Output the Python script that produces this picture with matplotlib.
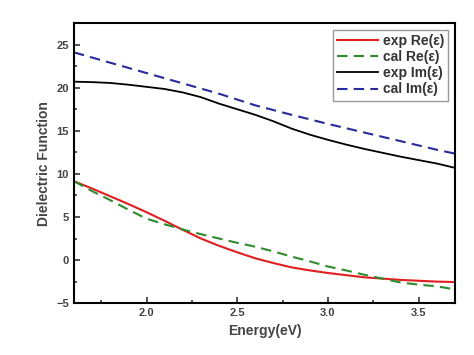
import numpy as np
import matplotlib
matplotlib.use('Agg')
import matplotlib.pyplot as plt
from matplotlib.ticker import MultipleLocator

plt.rcParams['font.family'] = ['Liberation Sans', 'DejaVu Sans']
plt.rcParams['font.weight'] = 'bold'

# 数据
energy_im = [1.6, 1.7, 1.8, 1.9, 2.0, 2.1, 2.2, 2.3, 2.4, 2.5, 2.6, 2.7, 2.8, 2.9, 3.0, 3.1, 3.2, 3.3, 3.4, 3.5, 3.6, 3.7]
exp_im = [20.7, 20.65, 20.55, 20.35, 20.1, 19.85, 19.45, 18.9, 18.15, 17.5, 16.85, 16.1, 15.25, 14.55, 13.95, 13.4, 12.9, 12.45, 12.0, 11.6, 11.2, 10.7]

energy_cal_im = [1.6, 1.8, 2.0, 2.2, 2.4, 2.6, 2.8, 3.0, 3.2, 3.4, 3.6, 3.7]
cal_im = [24.1, 22.9, 21.7, 20.5, 19.3, 17.95, 16.85, 15.8, 14.8, 13.8, 12.8, 12.35]

energy_re = [1.6, 1.7, 1.8, 1.9, 2.0, 2.1, 2.2, 2.3, 2.4, 2.5, 2.6, 2.7, 2.8, 2.9, 3.0, 3.1, 3.2, 3.3, 3.4, 3.5, 3.6, 3.7]
exp_re = [9.15, 8.3, 7.4, 6.5, 5.55, 4.55, 3.5, 2.5, 1.65, 0.9, 0.2, -0.35, -0.85, -1.2, -1.5, -1.75, -2.0, -2.15, -2.3, -2.4, -2.5, -2.55]

energy_cal_re = [1.6, 1.7, 1.8, 1.9, 2.0, 2.1, 2.2, 2.3, 2.4, 2.5, 2.6, 2.7, 2.8, 2.9, 3.0, 3.1, 3.2, 3.3, 3.4, 3.5, 3.6, 3.7]
cal_re = [9.15, 8.0, 6.95, 5.85, 4.8, 4.15, 3.55, 3.0, 2.5, 2.0, 1.55, 1.0, 0.4, -0.15, -0.75, -1.2, -1.7, -2.15, -2.6, -2.85, -3.05, -3.4]

fig = plt.figure(figsize=(4.74, 3.55), dpi=100)
ax = fig.add_axes([0.156, 0.146, 0.804, 0.789])

ax.plot(energy_re, exp_re, color='#e02020', lw=1.5, label='exp Re(ε)')
ax.plot(energy_cal_re, cal_re, color='#2e8b2e', lw=1.5, dashes=(5, 3), label='cal Re(ε)')
ax.plot(energy_im, exp_im, color='black', lw=1.3, label='exp Im(ε)')
ax.plot(energy_cal_im, cal_im, color='#2a2a9c', lw=1.5, dashes=(5, 3), label='cal Im(ε)')

ax.set_xlim(1.6, 3.7)
ax.set_ylim(-5, 27.5)
ax.xaxis.set_major_locator(MultipleLocator(0.5))
ax.xaxis.set_minor_locator(MultipleLocator(0.25))
ax.yaxis.set_major_locator(MultipleLocator(5))
ax.yaxis.set_minor_locator(MultipleLocator(2.5))
ax.tick_params(which='both', direction='in', top=False, right=False, width=1.2, labelsize=8, colors='#333333', labelcolor='#444444')
ax.tick_params(which='major', length=4)
ax.tick_params(which='minor', length=2.5)
for s in ax.spines.values():
    s.set_linewidth(1.5)

ax.set_xlabel('Energy(eV)', fontsize=10, fontweight='bold', color='#444444')
ax.set_ylabel('Dielectric Function', fontsize=10, fontweight='bold', color='#444444')

leg = ax.legend(loc='upper right', fontsize=10, handlelength=3, handletextpad=0.3,
                borderpad=0.3, labelspacing=0.15, fancybox=False, framealpha=1)
leg.get_frame().set_edgecolor('#999999')
for t in leg.get_texts():
    t.set_color('#333333')

fig.savefig('out.png', dpi=100)
